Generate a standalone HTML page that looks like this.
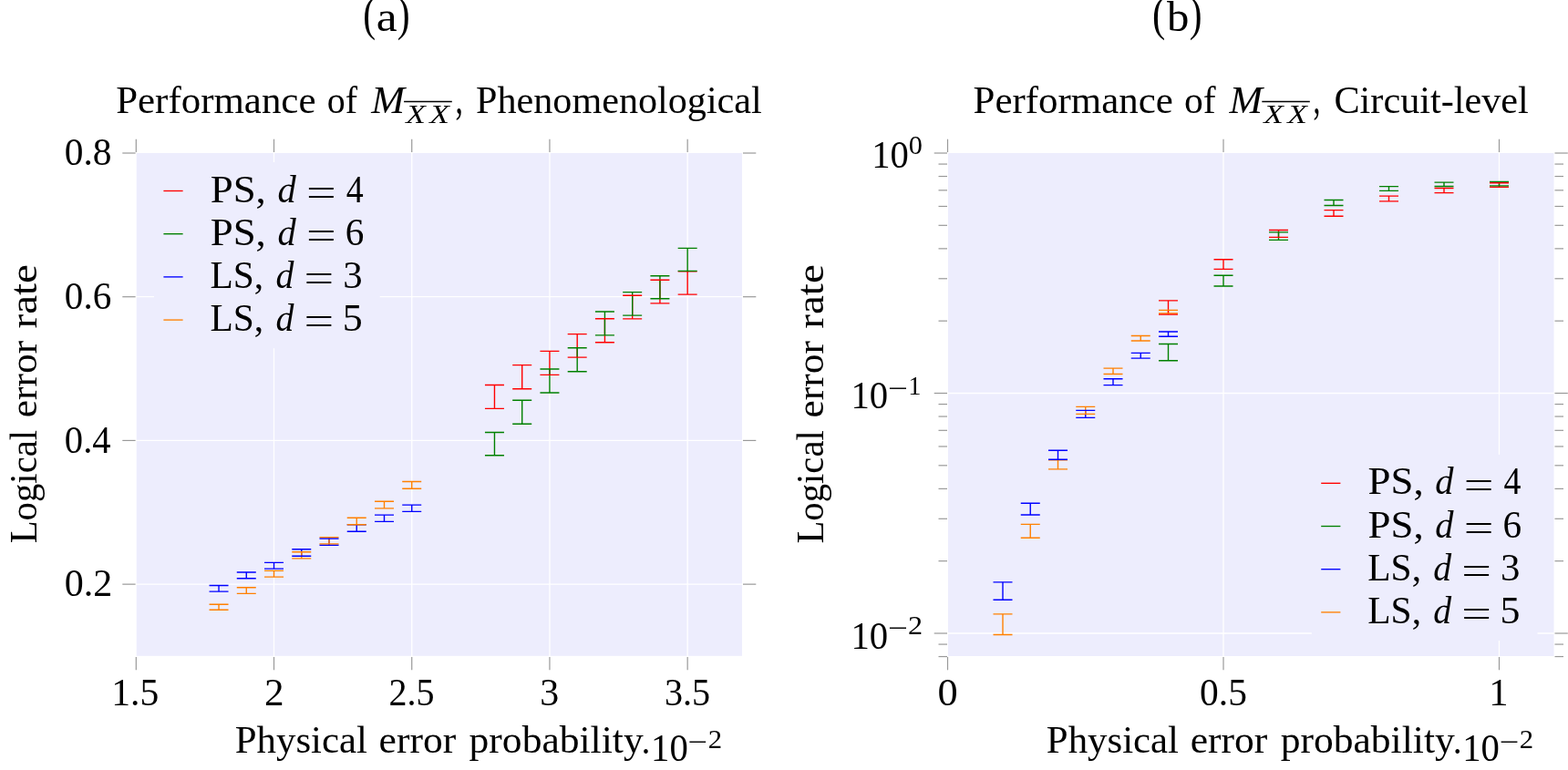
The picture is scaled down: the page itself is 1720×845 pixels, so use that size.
<!DOCTYPE html>
<html><head><meta charset="utf-8"><title>Performance plots</title>
<style>
html,body{margin:0;padding:0;background:#fff;}
svg{display:block;}
text{font-family:"Liberation Serif",serif;fill:#000;font-kerning:none;}
</style></head>
<body>
<svg width="1720" height="845" viewBox="0 0 1720 845">
<rect x="149.70" y="168.00" width="664.30" height="551.80" fill="#ededfd"/>
<rect x="1040.00" y="168.00" width="664.50" height="552.00" fill="#ededfd"/>
<line x1="300.51" y1="168.00" x2="300.51" y2="720.00" stroke="#fff" stroke-width="1.3"/>
<line x1="451.73" y1="168.00" x2="451.73" y2="720.00" stroke="#fff" stroke-width="1.3"/>
<line x1="602.94" y1="168.00" x2="602.94" y2="720.00" stroke="#fff" stroke-width="1.3"/>
<line x1="754.16" y1="168.00" x2="754.16" y2="720.00" stroke="#fff" stroke-width="1.3"/>
<line x1="149.30" y1="641.14" x2="814.00" y2="641.14" stroke="#fff" stroke-width="1.3"/>
<line x1="149.30" y1="483.43" x2="814.00" y2="483.43" stroke="#fff" stroke-width="1.3"/>
<line x1="149.30" y1="325.71" x2="814.00" y2="325.71" stroke="#fff" stroke-width="1.3"/>
<line x1="1342.00" y1="168.00" x2="1342.00" y2="720.00" stroke="#fff" stroke-width="1.3"/>
<line x1="1644.50" y1="168.00" x2="1644.50" y2="720.00" stroke="#fff" stroke-width="1.3"/>
<line x1="1039.50" y1="431.50" x2="1704.50" y2="431.50" stroke="#fff" stroke-width="1.3"/>
<line x1="1039.50" y1="695.00" x2="1704.50" y2="695.00" stroke="#fff" stroke-width="1.3"/>
<line x1="149.30" y1="721.00" x2="149.30" y2="735.30" stroke="#999999" stroke-width="1.2"/>
<line x1="149.30" y1="152.70" x2="149.30" y2="167.00" stroke="#999999" stroke-width="1.2"/>
<line x1="300.51" y1="721.00" x2="300.51" y2="735.30" stroke="#999999" stroke-width="1.2"/>
<line x1="300.51" y1="152.70" x2="300.51" y2="167.00" stroke="#999999" stroke-width="1.2"/>
<line x1="451.73" y1="721.00" x2="451.73" y2="735.30" stroke="#999999" stroke-width="1.2"/>
<line x1="451.73" y1="152.70" x2="451.73" y2="167.00" stroke="#999999" stroke-width="1.2"/>
<line x1="602.94" y1="721.00" x2="602.94" y2="735.30" stroke="#999999" stroke-width="1.2"/>
<line x1="602.94" y1="152.70" x2="602.94" y2="167.00" stroke="#999999" stroke-width="1.2"/>
<line x1="754.16" y1="721.00" x2="754.16" y2="735.30" stroke="#999999" stroke-width="1.2"/>
<line x1="754.16" y1="152.70" x2="754.16" y2="167.00" stroke="#999999" stroke-width="1.2"/>
<line x1="134.30" y1="641.14" x2="148.60" y2="641.14" stroke="#999999" stroke-width="1.2"/>
<line x1="815.00" y1="641.14" x2="829.30" y2="641.14" stroke="#999999" stroke-width="1.2"/>
<line x1="134.30" y1="483.43" x2="148.60" y2="483.43" stroke="#999999" stroke-width="1.2"/>
<line x1="815.00" y1="483.43" x2="829.30" y2="483.43" stroke="#999999" stroke-width="1.2"/>
<line x1="134.30" y1="325.71" x2="148.60" y2="325.71" stroke="#999999" stroke-width="1.2"/>
<line x1="815.00" y1="325.71" x2="829.30" y2="325.71" stroke="#999999" stroke-width="1.2"/>
<line x1="134.30" y1="168.00" x2="148.60" y2="168.00" stroke="#999999" stroke-width="1.2"/>
<line x1="815.00" y1="168.00" x2="829.30" y2="168.00" stroke="#999999" stroke-width="1.2"/>
<line x1="1039.50" y1="721.00" x2="1039.50" y2="735.30" stroke="#999999" stroke-width="1.2"/>
<line x1="1039.50" y1="152.70" x2="1039.50" y2="167.00" stroke="#999999" stroke-width="1.2"/>
<line x1="1342.00" y1="721.00" x2="1342.00" y2="735.30" stroke="#999999" stroke-width="1.2"/>
<line x1="1342.00" y1="152.70" x2="1342.00" y2="167.00" stroke="#999999" stroke-width="1.2"/>
<line x1="1644.50" y1="721.00" x2="1644.50" y2="735.30" stroke="#999999" stroke-width="1.2"/>
<line x1="1644.50" y1="152.70" x2="1644.50" y2="167.00" stroke="#999999" stroke-width="1.2"/>
<line x1="1024.70" y1="168.00" x2="1039.00" y2="168.00" stroke="#999999" stroke-width="1.2"/>
<line x1="1705.50" y1="168.00" x2="1719.80" y2="168.00" stroke="#999999" stroke-width="1.2"/>
<line x1="1024.70" y1="431.50" x2="1039.00" y2="431.50" stroke="#999999" stroke-width="1.2"/>
<line x1="1705.50" y1="431.50" x2="1719.80" y2="431.50" stroke="#999999" stroke-width="1.2"/>
<line x1="1024.70" y1="695.00" x2="1039.00" y2="695.00" stroke="#999999" stroke-width="1.2"/>
<line x1="1705.50" y1="695.00" x2="1719.80" y2="695.00" stroke="#999999" stroke-width="1.2"/>
<line x1="1029.50" y1="352.18" x2="1039.00" y2="352.18" stroke="#999999" stroke-width="1.2"/>
<line x1="1705.50" y1="352.18" x2="1715.00" y2="352.18" stroke="#999999" stroke-width="1.2"/>
<line x1="1029.50" y1="305.78" x2="1039.00" y2="305.78" stroke="#999999" stroke-width="1.2"/>
<line x1="1705.50" y1="305.78" x2="1715.00" y2="305.78" stroke="#999999" stroke-width="1.2"/>
<line x1="1029.50" y1="272.86" x2="1039.00" y2="272.86" stroke="#999999" stroke-width="1.2"/>
<line x1="1705.50" y1="272.86" x2="1715.00" y2="272.86" stroke="#999999" stroke-width="1.2"/>
<line x1="1029.50" y1="247.32" x2="1039.00" y2="247.32" stroke="#999999" stroke-width="1.2"/>
<line x1="1705.50" y1="247.32" x2="1715.00" y2="247.32" stroke="#999999" stroke-width="1.2"/>
<line x1="1029.50" y1="226.46" x2="1039.00" y2="226.46" stroke="#999999" stroke-width="1.2"/>
<line x1="1705.50" y1="226.46" x2="1715.00" y2="226.46" stroke="#999999" stroke-width="1.2"/>
<line x1="1029.50" y1="208.82" x2="1039.00" y2="208.82" stroke="#999999" stroke-width="1.2"/>
<line x1="1705.50" y1="208.82" x2="1715.00" y2="208.82" stroke="#999999" stroke-width="1.2"/>
<line x1="1029.50" y1="193.54" x2="1039.00" y2="193.54" stroke="#999999" stroke-width="1.2"/>
<line x1="1705.50" y1="193.54" x2="1715.00" y2="193.54" stroke="#999999" stroke-width="1.2"/>
<line x1="1029.50" y1="180.06" x2="1039.00" y2="180.06" stroke="#999999" stroke-width="1.2"/>
<line x1="1705.50" y1="180.06" x2="1715.00" y2="180.06" stroke="#999999" stroke-width="1.2"/>
<line x1="1029.50" y1="615.68" x2="1039.00" y2="615.68" stroke="#999999" stroke-width="1.2"/>
<line x1="1705.50" y1="615.68" x2="1715.00" y2="615.68" stroke="#999999" stroke-width="1.2"/>
<line x1="1029.50" y1="569.28" x2="1039.00" y2="569.28" stroke="#999999" stroke-width="1.2"/>
<line x1="1705.50" y1="569.28" x2="1715.00" y2="569.28" stroke="#999999" stroke-width="1.2"/>
<line x1="1029.50" y1="536.36" x2="1039.00" y2="536.36" stroke="#999999" stroke-width="1.2"/>
<line x1="1705.50" y1="536.36" x2="1715.00" y2="536.36" stroke="#999999" stroke-width="1.2"/>
<line x1="1029.50" y1="510.82" x2="1039.00" y2="510.82" stroke="#999999" stroke-width="1.2"/>
<line x1="1705.50" y1="510.82" x2="1715.00" y2="510.82" stroke="#999999" stroke-width="1.2"/>
<line x1="1029.50" y1="489.96" x2="1039.00" y2="489.96" stroke="#999999" stroke-width="1.2"/>
<line x1="1705.50" y1="489.96" x2="1715.00" y2="489.96" stroke="#999999" stroke-width="1.2"/>
<line x1="1029.50" y1="472.32" x2="1039.00" y2="472.32" stroke="#999999" stroke-width="1.2"/>
<line x1="1705.50" y1="472.32" x2="1715.00" y2="472.32" stroke="#999999" stroke-width="1.2"/>
<line x1="1029.50" y1="457.04" x2="1039.00" y2="457.04" stroke="#999999" stroke-width="1.2"/>
<line x1="1705.50" y1="457.04" x2="1715.00" y2="457.04" stroke="#999999" stroke-width="1.2"/>
<line x1="1029.50" y1="443.56" x2="1039.00" y2="443.56" stroke="#999999" stroke-width="1.2"/>
<line x1="1705.50" y1="443.56" x2="1715.00" y2="443.56" stroke="#999999" stroke-width="1.2"/>
<line x1="1029.50" y1="720.54" x2="1039.00" y2="720.54" stroke="#999999" stroke-width="1.2"/>
<line x1="1705.50" y1="720.54" x2="1715.00" y2="720.54" stroke="#999999" stroke-width="1.2"/>
<line x1="1029.50" y1="707.06" x2="1039.00" y2="707.06" stroke="#999999" stroke-width="1.2"/>
<line x1="1705.50" y1="707.06" x2="1715.00" y2="707.06" stroke="#999999" stroke-width="1.2"/>
<path d="M240.03 642.50V649.10" stroke="#0000ff" stroke-width="1.4" fill="none"/>
<path d="M270.27 628.00V634.70" stroke="#0000ff" stroke-width="1.4" fill="none"/>
<path d="M300.51 617.40V624.10" stroke="#0000ff" stroke-width="1.4" fill="none"/>
<path d="M330.76 602.80V610.30" stroke="#0000ff" stroke-width="1.4" fill="none"/>
<path d="M361.00 591.00V598.30" stroke="#0000ff" stroke-width="1.4" fill="none"/>
<path d="M391.24 575.80V583.30" stroke="#0000ff" stroke-width="1.4" fill="none"/>
<path d="M421.49 565.10V572.40" stroke="#0000ff" stroke-width="1.4" fill="none"/>
<path d="M451.73 554.10V561.40" stroke="#0000ff" stroke-width="1.4" fill="none"/>
<path d="M240.03 663.30V669.30" stroke="#ff8000" stroke-width="1.4" fill="none"/>
<path d="M270.27 644.80V651.40" stroke="#ff8000" stroke-width="1.4" fill="none"/>
<path d="M300.51 626.40V633.10" stroke="#ff8000" stroke-width="1.4" fill="none"/>
<path d="M330.76 605.80V612.90" stroke="#ff8000" stroke-width="1.4" fill="none"/>
<path d="M361.00 589.60V596.90" stroke="#ff8000" stroke-width="1.4" fill="none"/>
<path d="M391.24 568.30V575.80" stroke="#ff8000" stroke-width="1.4" fill="none"/>
<path d="M421.49 550.30V557.90" stroke="#ff8000" stroke-width="1.4" fill="none"/>
<path d="M451.73 528.50V536.20" stroke="#ff8000" stroke-width="1.4" fill="none"/>
<path d="M542.46 422.50V448.40" stroke="#ff0000" stroke-width="1.4" fill="none"/>
<path d="M572.70 400.60V426.80" stroke="#ff0000" stroke-width="1.4" fill="none"/>
<path d="M602.94 385.40V411.40" stroke="#ff0000" stroke-width="1.4" fill="none"/>
<path d="M633.19 366.60V392.10" stroke="#ff0000" stroke-width="1.4" fill="none"/>
<path d="M663.43 349.70V375.70" stroke="#ff0000" stroke-width="1.4" fill="none"/>
<path d="M693.67 324.20V349.90" stroke="#ff0000" stroke-width="1.4" fill="none"/>
<path d="M723.92 307.30V332.90" stroke="#ff0000" stroke-width="1.4" fill="none"/>
<path d="M754.16 297.90V323.10" stroke="#ff0000" stroke-width="1.4" fill="none"/>
<path d="M542.46 474.50V499.70" stroke="#008000" stroke-width="1.4" fill="none"/>
<path d="M572.70 439.30V465.30" stroke="#008000" stroke-width="1.4" fill="none"/>
<path d="M602.94 405.00V431.00" stroke="#008000" stroke-width="1.4" fill="none"/>
<path d="M633.19 381.70V407.70" stroke="#008000" stroke-width="1.4" fill="none"/>
<path d="M663.43 342.00V367.90" stroke="#008000" stroke-width="1.4" fill="none"/>
<path d="M693.67 320.60V346.10" stroke="#008000" stroke-width="1.4" fill="none"/>
<path d="M723.92 302.80V327.80" stroke="#008000" stroke-width="1.4" fill="none"/>
<path d="M754.16 272.40V297.40" stroke="#008000" stroke-width="1.4" fill="none"/>
<path d="M229.53 642.50H250.53M229.53 649.10H250.53" stroke="#0000ff" stroke-width="1.4" fill="none"/>
<path d="M259.77 628.00H280.77M259.77 634.70H280.77" stroke="#0000ff" stroke-width="1.4" fill="none"/>
<path d="M290.01 617.40H311.01M290.01 624.10H311.01" stroke="#0000ff" stroke-width="1.4" fill="none"/>
<path d="M320.26 602.80H341.26M320.26 610.30H341.26" stroke="#0000ff" stroke-width="1.4" fill="none"/>
<path d="M350.50 591.00H371.50M350.50 598.30H371.50" stroke="#0000ff" stroke-width="1.4" fill="none"/>
<path d="M380.74 575.80H401.74M380.74 583.30H401.74" stroke="#0000ff" stroke-width="1.4" fill="none"/>
<path d="M410.99 565.10H431.99M410.99 572.40H431.99" stroke="#0000ff" stroke-width="1.4" fill="none"/>
<path d="M441.23 554.10H462.23M441.23 561.40H462.23" stroke="#0000ff" stroke-width="1.4" fill="none"/>
<path d="M229.53 663.30H250.53M229.53 669.30H250.53" stroke="#ff8000" stroke-width="1.4" fill="none"/>
<path d="M259.77 644.80H280.77M259.77 651.40H280.77" stroke="#ff8000" stroke-width="1.4" fill="none"/>
<path d="M290.01 626.40H311.01M290.01 633.10H311.01" stroke="#ff8000" stroke-width="1.4" fill="none"/>
<path d="M320.26 605.80H341.26M320.26 612.90H341.26" stroke="#ff8000" stroke-width="1.4" fill="none"/>
<path d="M350.50 589.60H371.50M350.50 596.90H371.50" stroke="#ff8000" stroke-width="1.4" fill="none"/>
<path d="M380.74 568.30H401.74M380.74 575.80H401.74" stroke="#ff8000" stroke-width="1.4" fill="none"/>
<path d="M410.99 550.30H431.99M410.99 557.90H431.99" stroke="#ff8000" stroke-width="1.4" fill="none"/>
<path d="M441.23 528.50H462.23M441.23 536.20H462.23" stroke="#ff8000" stroke-width="1.4" fill="none"/>
<path d="M531.96 422.50H552.96M531.96 448.40H552.96" stroke="#ff0000" stroke-width="1.4" fill="none"/>
<path d="M562.20 400.60H583.20M562.20 426.80H583.20" stroke="#ff0000" stroke-width="1.4" fill="none"/>
<path d="M592.44 385.40H613.44M592.44 411.40H613.44" stroke="#ff0000" stroke-width="1.4" fill="none"/>
<path d="M622.69 366.60H643.69M622.69 392.10H643.69" stroke="#ff0000" stroke-width="1.4" fill="none"/>
<path d="M652.93 349.70H673.93M652.93 375.70H673.93" stroke="#ff0000" stroke-width="1.4" fill="none"/>
<path d="M683.17 324.20H704.17M683.17 349.90H704.17" stroke="#ff0000" stroke-width="1.4" fill="none"/>
<path d="M713.42 307.30H734.42M713.42 332.90H734.42" stroke="#ff0000" stroke-width="1.4" fill="none"/>
<path d="M743.66 297.90H764.66M743.66 323.10H764.66" stroke="#ff0000" stroke-width="1.4" fill="none"/>
<path d="M531.96 474.50H552.96M531.96 499.70H552.96" stroke="#008000" stroke-width="1.4" fill="none"/>
<path d="M562.20 439.30H583.20M562.20 465.30H583.20" stroke="#008000" stroke-width="1.4" fill="none"/>
<path d="M592.44 405.00H613.44M592.44 431.00H613.44" stroke="#008000" stroke-width="1.4" fill="none"/>
<path d="M622.69 381.70H643.69M622.69 407.70H643.69" stroke="#008000" stroke-width="1.4" fill="none"/>
<path d="M652.93 342.00H673.93M652.93 367.90H673.93" stroke="#008000" stroke-width="1.4" fill="none"/>
<path d="M683.17 320.60H704.17M683.17 346.10H704.17" stroke="#008000" stroke-width="1.4" fill="none"/>
<path d="M713.42 302.80H734.42M713.42 327.80H734.42" stroke="#008000" stroke-width="1.4" fill="none"/>
<path d="M743.66 272.40H764.66M743.66 297.40H764.66" stroke="#008000" stroke-width="1.4" fill="none"/>
<path d="M1100.00 638.90V658.20" stroke="#0000ff" stroke-width="1.4" fill="none"/>
<path d="M1130.25 552.30V565.00" stroke="#0000ff" stroke-width="1.4" fill="none"/>
<path d="M1160.50 494.20V504.30" stroke="#0000ff" stroke-width="1.4" fill="none"/>
<path d="M1190.75 450.40V458.40" stroke="#0000ff" stroke-width="1.4" fill="none"/>
<path d="M1221.00 415.80V422.60" stroke="#0000ff" stroke-width="1.4" fill="none"/>
<path d="M1251.25 387.40V393.10" stroke="#0000ff" stroke-width="1.4" fill="none"/>
<path d="M1281.50 364.00V369.20" stroke="#0000ff" stroke-width="1.4" fill="none"/>
<path d="M1100.00 673.90V696.50" stroke="#ff8000" stroke-width="1.4" fill="none"/>
<path d="M1130.25 575.40V590.20" stroke="#ff8000" stroke-width="1.4" fill="none"/>
<path d="M1160.50 504.90V514.90" stroke="#ff8000" stroke-width="1.4" fill="none"/>
<path d="M1190.75 446.40V454.40" stroke="#ff8000" stroke-width="1.4" fill="none"/>
<path d="M1221.00 404.10V410.50" stroke="#ff8000" stroke-width="1.4" fill="none"/>
<path d="M1251.25 368.50V374.00" stroke="#ff8000" stroke-width="1.4" fill="none"/>
<path d="M1281.50 340.40V344.00" stroke="#ff8000" stroke-width="1.4" fill="none"/>
<path d="M1281.50 329.90V345.10" stroke="#ff0000" stroke-width="1.4" fill="none"/>
<path d="M1342.00 284.70V295.40" stroke="#ff0000" stroke-width="1.4" fill="none"/>
<path d="M1402.50 252.50V260.40" stroke="#ff0000" stroke-width="1.4" fill="none"/>
<path d="M1463.00 230.60V237.20" stroke="#ff0000" stroke-width="1.4" fill="none"/>
<path d="M1523.50 215.10V220.90" stroke="#ff0000" stroke-width="1.4" fill="none"/>
<path d="M1584.00 206.50V211.60" stroke="#ff0000" stroke-width="1.4" fill="none"/>
<path d="M1644.50 200.70V205.30" stroke="#ff0000" stroke-width="1.4" fill="none"/>
<path d="M1281.50 377.50V395.80" stroke="#008000" stroke-width="1.4" fill="none"/>
<path d="M1342.00 302.30V314.00" stroke="#008000" stroke-width="1.4" fill="none"/>
<path d="M1402.50 254.90V263.40" stroke="#008000" stroke-width="1.4" fill="none"/>
<path d="M1463.00 219.50V225.50" stroke="#008000" stroke-width="1.4" fill="none"/>
<path d="M1523.50 204.60V209.40" stroke="#008000" stroke-width="1.4" fill="none"/>
<path d="M1584.00 200.10V204.50" stroke="#008000" stroke-width="1.4" fill="none"/>
<path d="M1644.50 199.40V203.90" stroke="#008000" stroke-width="1.4" fill="none"/>
<path d="M1089.50 673.90H1110.50M1089.50 696.50H1110.50" stroke="#ff8000" stroke-width="1.4" fill="none"/>
<path d="M1119.75 575.40H1140.75M1119.75 590.20H1140.75" stroke="#ff8000" stroke-width="1.4" fill="none"/>
<path d="M1150.00 504.90H1171.00M1150.00 514.90H1171.00" stroke="#ff8000" stroke-width="1.4" fill="none"/>
<path d="M1180.25 446.40H1201.25M1180.25 454.40H1201.25" stroke="#ff8000" stroke-width="1.4" fill="none"/>
<path d="M1210.50 404.10H1231.50M1210.50 410.50H1231.50" stroke="#ff8000" stroke-width="1.4" fill="none"/>
<path d="M1240.75 368.50H1261.75M1240.75 374.00H1261.75" stroke="#ff8000" stroke-width="1.4" fill="none"/>
<path d="M1271.00 340.40H1292.00M1271.00 344.00H1292.00" stroke="#ff8000" stroke-width="1.4" fill="none"/>
<path d="M1089.50 638.90H1110.50M1089.50 658.20H1110.50" stroke="#0000ff" stroke-width="1.4" fill="none"/>
<path d="M1119.75 552.30H1140.75M1119.75 565.00H1140.75" stroke="#0000ff" stroke-width="1.4" fill="none"/>
<path d="M1150.00 494.20H1171.00M1150.00 504.30H1171.00" stroke="#0000ff" stroke-width="1.4" fill="none"/>
<path d="M1180.25 450.40H1201.25M1180.25 458.40H1201.25" stroke="#0000ff" stroke-width="1.4" fill="none"/>
<path d="M1210.50 415.80H1231.50M1210.50 422.60H1231.50" stroke="#0000ff" stroke-width="1.4" fill="none"/>
<path d="M1240.75 387.40H1261.75M1240.75 393.10H1261.75" stroke="#0000ff" stroke-width="1.4" fill="none"/>
<path d="M1271.00 364.00H1292.00M1271.00 369.20H1292.00" stroke="#0000ff" stroke-width="1.4" fill="none"/>
<path d="M1271.00 329.90H1292.00M1271.00 345.10H1292.00" stroke="#ff0000" stroke-width="1.4" fill="none"/>
<path d="M1331.50 284.70H1352.50M1331.50 295.40H1352.50" stroke="#ff0000" stroke-width="1.4" fill="none"/>
<path d="M1392.00 252.50H1413.00M1392.00 260.40H1413.00" stroke="#ff0000" stroke-width="1.4" fill="none"/>
<path d="M1452.50 230.60H1473.50M1452.50 237.20H1473.50" stroke="#ff0000" stroke-width="1.4" fill="none"/>
<path d="M1513.00 215.10H1534.00M1513.00 220.90H1534.00" stroke="#ff0000" stroke-width="1.4" fill="none"/>
<path d="M1573.50 206.50H1594.50M1573.50 211.60H1594.50" stroke="#ff0000" stroke-width="1.4" fill="none"/>
<path d="M1634.00 200.70H1655.00M1634.00 205.30H1655.00" stroke="#ff0000" stroke-width="1.4" fill="none"/>
<path d="M1271.00 377.50H1292.00M1271.00 395.80H1292.00" stroke="#008000" stroke-width="1.4" fill="none"/>
<path d="M1331.50 302.30H1352.50M1331.50 314.00H1352.50" stroke="#008000" stroke-width="1.4" fill="none"/>
<path d="M1392.00 254.90H1413.00M1392.00 263.40H1413.00" stroke="#008000" stroke-width="1.4" fill="none"/>
<path d="M1452.50 219.50H1473.50M1452.50 225.50H1473.50" stroke="#008000" stroke-width="1.4" fill="none"/>
<path d="M1513.00 204.60H1534.00M1513.00 209.40H1534.00" stroke="#008000" stroke-width="1.4" fill="none"/>
<path d="M1573.50 200.10H1594.50M1573.50 204.50H1594.50" stroke="#008000" stroke-width="1.4" fill="none"/>
<path d="M1634.00 199.40H1655.00M1634.00 203.90H1655.00" stroke="#008000" stroke-width="1.4" fill="none"/>
<rect x="169.00" y="178.00" width="247.70" height="204.20" fill="#ededfd"/>
<line x1="179.40" y1="209.50" x2="200.60" y2="209.50" stroke="#ff0000" stroke-width="1.35"/>
<text x="230.71" y="221.60" font-size="43" textLength="61.12" lengthAdjust="spacingAndGlyphs">PS,</text>
<text x="304.48" y="221.60" font-size="43" textLength="20.23" lengthAdjust="spacingAndGlyphs" style="font-style:italic;">d</text>
<text x="335.91" y="224.80" font-size="43" textLength="32.72" lengthAdjust="spacingAndGlyphs">=</text>
<text x="379.66" y="221.60" font-size="43" textLength="18.93" lengthAdjust="spacingAndGlyphs">4</text>
<line x1="179.40" y1="256.70" x2="200.60" y2="256.70" stroke="#008000" stroke-width="1.35"/>
<text x="230.71" y="268.80" font-size="43" textLength="61.12" lengthAdjust="spacingAndGlyphs">PS,</text>
<text x="304.48" y="268.80" font-size="43" textLength="20.23" lengthAdjust="spacingAndGlyphs" style="font-style:italic;">d</text>
<text x="335.91" y="272.00" font-size="43" textLength="32.72" lengthAdjust="spacingAndGlyphs">=</text>
<text x="378.63" y="268.80" font-size="43" textLength="20.60" lengthAdjust="spacingAndGlyphs">6</text>
<line x1="179.40" y1="303.90" x2="200.60" y2="303.90" stroke="#0000ff" stroke-width="1.35"/>
<text x="230.51" y="316.00" font-size="43" textLength="58.70" lengthAdjust="spacingAndGlyphs">LS,</text>
<text x="302.49" y="316.00" font-size="43" textLength="19.91" lengthAdjust="spacingAndGlyphs" style="font-style:italic;">d</text>
<text x="333.41" y="319.20" font-size="43" textLength="32.72" lengthAdjust="spacingAndGlyphs">=</text>
<text x="376.25" y="316.00" font-size="43" textLength="21.42" lengthAdjust="spacingAndGlyphs">3</text>
<line x1="179.40" y1="351.10" x2="200.60" y2="351.10" stroke="#ff8000" stroke-width="1.35"/>
<text x="230.51" y="363.20" font-size="43" textLength="58.70" lengthAdjust="spacingAndGlyphs">LS,</text>
<text x="302.49" y="363.20" font-size="43" textLength="19.91" lengthAdjust="spacingAndGlyphs" style="font-style:italic;">d</text>
<text x="333.41" y="366.40" font-size="43" textLength="32.72" lengthAdjust="spacingAndGlyphs">=</text>
<text x="375.75" y="363.20" font-size="43" textLength="21.97" lengthAdjust="spacingAndGlyphs">5</text>
<rect x="1438.80" y="498.80" width="247.70" height="204.20" fill="#ededfd"/>
<line x1="1449.20" y1="530.30" x2="1470.40" y2="530.30" stroke="#ff0000" stroke-width="1.35"/>
<text x="1500.51" y="542.40" font-size="43" textLength="61.12" lengthAdjust="spacingAndGlyphs">PS,</text>
<text x="1574.28" y="542.40" font-size="43" textLength="20.23" lengthAdjust="spacingAndGlyphs" style="font-style:italic;">d</text>
<text x="1605.71" y="545.60" font-size="43" textLength="32.72" lengthAdjust="spacingAndGlyphs">=</text>
<text x="1649.46" y="542.40" font-size="43" textLength="18.93" lengthAdjust="spacingAndGlyphs">4</text>
<line x1="1449.20" y1="577.50" x2="1470.40" y2="577.50" stroke="#008000" stroke-width="1.35"/>
<text x="1500.51" y="589.60" font-size="43" textLength="61.12" lengthAdjust="spacingAndGlyphs">PS,</text>
<text x="1574.28" y="589.60" font-size="43" textLength="20.23" lengthAdjust="spacingAndGlyphs" style="font-style:italic;">d</text>
<text x="1605.71" y="592.80" font-size="43" textLength="32.72" lengthAdjust="spacingAndGlyphs">=</text>
<text x="1648.43" y="589.60" font-size="43" textLength="20.60" lengthAdjust="spacingAndGlyphs">6</text>
<line x1="1449.20" y1="624.70" x2="1470.40" y2="624.70" stroke="#0000ff" stroke-width="1.35"/>
<text x="1500.31" y="636.80" font-size="43" textLength="58.70" lengthAdjust="spacingAndGlyphs">LS,</text>
<text x="1572.29" y="636.80" font-size="43" textLength="19.91" lengthAdjust="spacingAndGlyphs" style="font-style:italic;">d</text>
<text x="1603.21" y="640.00" font-size="43" textLength="32.72" lengthAdjust="spacingAndGlyphs">=</text>
<text x="1646.05" y="636.80" font-size="43" textLength="21.42" lengthAdjust="spacingAndGlyphs">3</text>
<line x1="1449.20" y1="671.90" x2="1470.40" y2="671.90" stroke="#ff8000" stroke-width="1.35"/>
<text x="1500.31" y="684.00" font-size="43" textLength="58.70" lengthAdjust="spacingAndGlyphs">LS,</text>
<text x="1572.29" y="684.00" font-size="43" textLength="19.91" lengthAdjust="spacingAndGlyphs" style="font-style:italic;">d</text>
<text x="1603.21" y="687.20" font-size="43" textLength="32.72" lengthAdjust="spacingAndGlyphs">=</text>
<text x="1645.55" y="684.00" font-size="43" textLength="21.97" lengthAdjust="spacingAndGlyphs">5</text>
<text x="398.27" y="33.30" font-size="53" textLength="13.87" lengthAdjust="spacingAndGlyphs">(</text>
<text x="412.78" y="33.70" font-size="45.5" textLength="22.92" lengthAdjust="spacingAndGlyphs">a</text>
<text x="435.76" y="33.30" font-size="53" textLength="13.87" lengthAdjust="spacingAndGlyphs">)</text>
<text x="1264.12" y="33.30" font-size="53" textLength="14.26" lengthAdjust="spacingAndGlyphs">(</text>
<text x="1279.90" y="33.50" font-size="45.5" textLength="24.36" lengthAdjust="spacingAndGlyphs">b</text>
<text x="1304.67" y="33.30" font-size="53" textLength="13.74" lengthAdjust="spacingAndGlyphs">)</text>
<text x="127.16" y="124.00" font-size="43" textLength="219.33" lengthAdjust="spacingAndGlyphs">Performance</text>
<text x="358.68" y="124.00" font-size="43" textLength="33.32" lengthAdjust="spacingAndGlyphs">of</text>
<text x="407.22" y="124.00" font-size="43" textLength="36.76" lengthAdjust="spacingAndGlyphs" style="font-style:italic;">M</text>
<text x="445.17" y="134.60" font-size="29" textLength="21.59" lengthAdjust="spacingAndGlyphs" style="font-style:italic;">X</text>
<text x="471.18" y="134.60" font-size="29" textLength="21.68" lengthAdjust="spacingAndGlyphs" style="font-style:italic;">X</text>
<line x1="443.10" y1="111.40" x2="495.80" y2="111.40" stroke="#000" stroke-width="1.5"/>
<text x="499.52" y="124.00" font-size="50" textLength="8.39" lengthAdjust="spacingAndGlyphs">,</text>
<text x="522.09" y="124.00" font-size="43" textLength="313.66" lengthAdjust="spacingAndGlyphs">Phenomenological</text>
<text x="1067.56" y="124.00" font-size="43" textLength="219.33" lengthAdjust="spacingAndGlyphs">Performance</text>
<text x="1299.01" y="124.00" font-size="43" textLength="34.69" lengthAdjust="spacingAndGlyphs">of</text>
<text x="1348.51" y="124.00" font-size="43" textLength="36.48" lengthAdjust="spacingAndGlyphs" style="font-style:italic;">M</text>
<text x="1386.17" y="134.60" font-size="29" textLength="21.59" lengthAdjust="spacingAndGlyphs" style="font-style:italic;">X</text>
<text x="1412.17" y="134.60" font-size="29" textLength="21.59" lengthAdjust="spacingAndGlyphs" style="font-style:italic;">X</text>
<line x1="1384.30" y1="111.40" x2="1436.80" y2="111.40" stroke="#000" stroke-width="1.5"/>
<text x="1440.60" y="124.00" font-size="50" textLength="7.89" lengthAdjust="spacingAndGlyphs">,</text>
<text x="1463.47" y="124.00" font-size="43" textLength="213.28" lengthAdjust="spacingAndGlyphs">Circuit-level</text>
<text x="70.82" y="181.20" font-size="43" textLength="51.75" lengthAdjust="spacingAndGlyphs">0.8</text>
<text x="70.83" y="338.91" font-size="43" textLength="51.39" lengthAdjust="spacingAndGlyphs">0.6</text>
<text x="70.85" y="496.63" font-size="43" textLength="50.78" lengthAdjust="spacingAndGlyphs">0.4</text>
<text x="70.80" y="654.34" font-size="43" textLength="52.52" lengthAdjust="spacingAndGlyphs">0.2</text>
<text x="122.30" y="774.10" font-size="43" textLength="51.98" lengthAdjust="spacingAndGlyphs">1.5</text>
<text x="289.97" y="774.10" font-size="43" textLength="21.58" lengthAdjust="spacingAndGlyphs">2</text>
<text x="426.62" y="774.10" font-size="43" textLength="50.02" lengthAdjust="spacingAndGlyphs">2.5</text>
<text x="592.29" y="774.10" font-size="43" textLength="20.94" lengthAdjust="spacingAndGlyphs">3</text>
<text x="728.89" y="774.10" font-size="43" textLength="50.19" lengthAdjust="spacingAndGlyphs">3.5</text>
<text x="1028.41" y="774.10" font-size="43" textLength="22.18" lengthAdjust="spacingAndGlyphs">0</text>
<text x="1316.12" y="774.10" font-size="43" textLength="51.80" lengthAdjust="spacingAndGlyphs">0.5</text>
<text x="1633.26" y="774.10" font-size="43" textLength="21.30" lengthAdjust="spacingAndGlyphs">1</text>
<text x="956.23" y="183.80" font-size="43" textLength="40.62" lengthAdjust="spacingAndGlyphs">10</text>
<text x="996.65" y="169.20" font-size="30" textLength="15.10" lengthAdjust="spacingAndGlyphs">0</text>
<text x="933.42" y="448.00" font-size="43" textLength="40.73" lengthAdjust="spacingAndGlyphs">10</text>
<text x="974.16" y="435.86" font-size="30" textLength="21.94" lengthAdjust="spacingAndGlyphs">−</text>
<text x="996.30" y="432.60" font-size="30" textLength="14.20" lengthAdjust="spacingAndGlyphs">1</text>
<text x="933.42" y="711.50" font-size="43" textLength="40.73" lengthAdjust="spacingAndGlyphs">10</text>
<text x="974.16" y="699.36" font-size="30" textLength="21.94" lengthAdjust="spacingAndGlyphs">−</text>
<text x="996.09" y="696.10" font-size="30" textLength="16.09" lengthAdjust="spacingAndGlyphs">2</text>
<text x="257.77" y="826.00" font-size="43" textLength="145.09" lengthAdjust="spacingAndGlyphs">Physical</text>
<text x="415.60" y="826.00" font-size="43" textLength="84.58" lengthAdjust="spacingAndGlyphs">error</text>
<text x="514.60" y="826.00" font-size="43" textLength="191.07" lengthAdjust="spacingAndGlyphs">probability</text>
<text x="702.12" y="839.24" font-size="43" textLength="12.96" lengthAdjust="spacingAndGlyphs">·</text>
<text x="714.12" y="835.00" font-size="43" textLength="40.73" lengthAdjust="spacingAndGlyphs">10</text>
<text x="754.89" y="823.66" font-size="30" textLength="21.57" lengthAdjust="spacingAndGlyphs">−</text>
<text x="776.65" y="820.50" font-size="30" textLength="15.34" lengthAdjust="spacingAndGlyphs">2</text>
<text x="1147.87" y="826.00" font-size="43" textLength="145.09" lengthAdjust="spacingAndGlyphs">Physical</text>
<text x="1305.70" y="826.00" font-size="43" textLength="84.58" lengthAdjust="spacingAndGlyphs">error</text>
<text x="1404.70" y="826.00" font-size="43" textLength="191.07" lengthAdjust="spacingAndGlyphs">probability</text>
<text x="1592.22" y="839.24" font-size="43" textLength="12.96" lengthAdjust="spacingAndGlyphs">·</text>
<text x="1604.22" y="835.00" font-size="43" textLength="40.73" lengthAdjust="spacingAndGlyphs">10</text>
<text x="1644.99" y="823.66" font-size="30" textLength="21.57" lengthAdjust="spacingAndGlyphs">−</text>
<text x="1666.75" y="820.50" font-size="30" textLength="15.34" lengthAdjust="spacingAndGlyphs">2</text>
<text transform="translate(40.00,596.27) rotate(-90)" x="0" y="0" font-size="43" textLength="124.39" lengthAdjust="spacingAndGlyphs">Logical</text>
<text transform="translate(40.00,458.30) rotate(-90)" x="0" y="0" font-size="43" textLength="84.48" lengthAdjust="spacingAndGlyphs">error</text>
<text transform="translate(40.00,360.44) rotate(-90)" x="0" y="0" font-size="43" textLength="70.26" lengthAdjust="spacingAndGlyphs">rate</text>
<text transform="translate(902.60,596.57) rotate(-90)" x="0" y="0" font-size="43" textLength="124.39" lengthAdjust="spacingAndGlyphs">Logical</text>
<text transform="translate(902.60,458.60) rotate(-90)" x="0" y="0" font-size="43" textLength="84.48" lengthAdjust="spacingAndGlyphs">error</text>
<text transform="translate(902.60,360.74) rotate(-90)" x="0" y="0" font-size="43" textLength="70.58" lengthAdjust="spacingAndGlyphs">rate</text>
</svg>
</body></html>
